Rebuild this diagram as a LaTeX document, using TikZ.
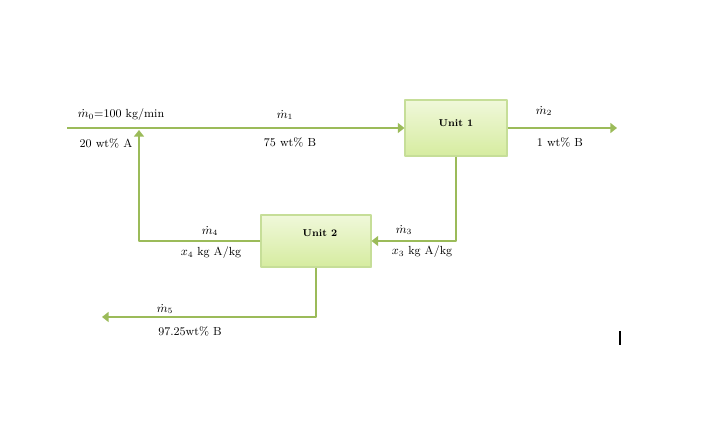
\documentclass[tikz,border=0pt]{standalone}
\usetikzlibrary{arrows.meta,shadows}
\definecolor{flow}{RGB}{155,187,89}
\definecolor{boxtop}{RGB}{240,248,218}
\definecolor{boxbot}{RGB}{214,236,160}
\definecolor{boxline}{RGB}{198,222,152}
\tikzset{
  stream/.style={draw=flow, line width=2.2pt, line cap=butt},
  unitbox/.style={draw=boxline, line width=0.8pt, top color=boxtop, bottom color=boxbot,
    drop shadow={opacity=0.2, shadow xshift=0.8pt, shadow yshift=-0.8pt}},
  unitlabel/.style={font=\fontsize{7.5}{9}\selectfont\bfseries},
}
\begin{document}
\begin{tikzpicture}[x=0.75pt, y=-0.75pt, font=\fontsize{8.8}{10.5}\selectfont, line join=round, >={Triangle[length=5pt, width=7.5pt]}]
\useasboundingbox (0,0) rectangle (719,423);
\node[unitbox, minimum width=76.5pt, minimum height=42pt] (u1) at (456,128) {};
\node[unitbox, minimum width=82.5pt, minimum height=39pt] (u2) at (316,241) {};
\node[unitlabel] (u1t) at (456,123) {Unit 1};
\node[unitlabel] (u2t) at (320,233) {Unit 2};
\coordinate (in0) at (67,128);
\coordinate (mix) at (139,130);
\coordinate (out2) at (617,128);
\coordinate (out5) at (102,317);

\node (m0) at (121,115) {$\dot{m}_0$=100 kg/min};
\node (w0) at (106,143) {20 wt\% A};
\node (m1) at (285,115) {$\dot{m}_1$};
\node (w1) at (290,142) {75 wt\% B};
\node (m2) at (544,111) {$\dot{m}_2$};
\node (w2) at (560,142) {1 wt\% B};
\node (m3) at (404,230) {$\dot{m}_3$};
\node (x3) at (422,252) {$x_3$ kg A/kg};
\node (m4) at (210,231) {$\dot{m}_4$};
\node (x4) at (211,253) {$x_4$ kg A/kg};
\node (m5) at (165,309) {$\dot{m}_5$};
\node (w5) at (190,331) {97.25wt\% B};

\draw[stream,->] (in0) -- (u1.west);
\draw[stream,->] (u1.east) -- (out2);
\draw[stream,->] (u1.south) |- (u2.east);
\draw[stream,->] (u2.west) -| (mix);
\draw[stream,->] (u2.south) |- (out5);
\draw[line width=1.1pt] (620,331) -- (620,345);
\end{tikzpicture}
\end{document}
